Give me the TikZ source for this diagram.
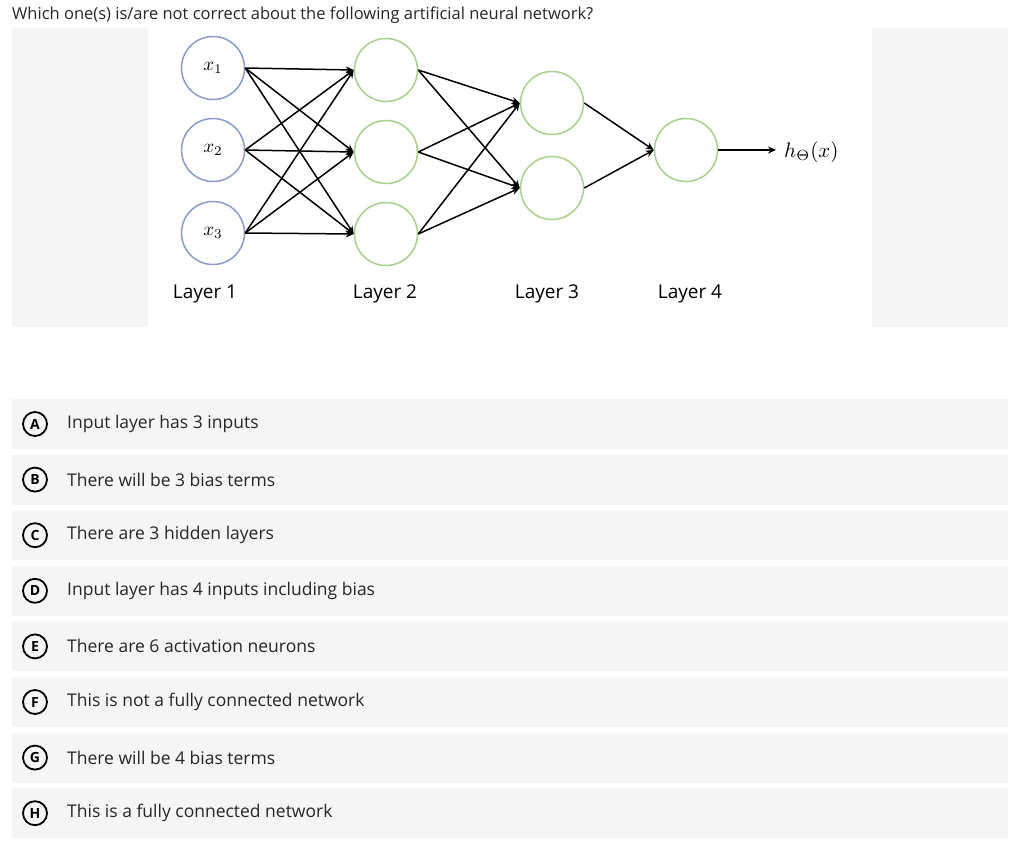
\documentclass[tikz,border=0pt]{standalone}
\usepackage{fontspec}
\setmainfont{Open Sans}
\usetikzlibrary{arrows.meta}
\definecolor{panel}{HTML}{F5F5F5}
\definecolor{inblue}{HTML}{8A9CC8}
\definecolor{hidgreen}{HTML}{A8D08D}
\tikzset{
 x=1pt,y=-1pt,
 inneur/.style={circle,draw=inblue,line width=1.5pt,minimum size=63pt,inner sep=0pt},
 hidneur/.style={circle,draw=hidgreen,line width=1.5pt,minimum size=63pt,inner sep=0pt},
 conn/.style={-{Stealth[length=8pt,width=7pt]},line width=1.5pt},
 layerlbl/.style={font=\fontsize{19}{22}\selectfont},
 optbar/.style={fill=panel,draw=none},
 optletter/.style={circle,draw,line width=1.8pt,minimum size=24pt,inner sep=0pt,font=\bfseries\fontsize{14}{14}\selectfont},
 opttext/.style={anchor=west,font=\fontsize{17.5}{20}\selectfont,text=black!85}
}
\begin{document}
\begin{tikzpicture}
\useasboundingbox (0,0) rectangle (1024,841);
\fill[white] (0,0) rectangle (1024,841);
\node[anchor=west,inner sep=0pt,font=\fontsize{16.5}{20}\selectfont,text=black!85] (title) at (12,15) {Which one(s) is/are not correct about the following artificial neural network?};
\fill[panel] (12,28) rectangle (148,327);
\fill[panel] (872,28) rectangle (1008,327);
% layer 1
\node[inneur] (a1) at (213,68) {\scalebox{1.9}{$x_1$}};
\node[inneur] (a2) at (213,150) {\scalebox{1.9}{$x_2$}};
\node[inneur] (a3) at (213,233) {\scalebox{1.9}{$x_3$}};
% layer 2
\node[hidneur] (b1) at (386,70) {};
\node[hidneur] (b2) at (386,152) {};
\node[hidneur] (b3) at (386,234) {};
% layer 3
\node[hidneur] (c1) at (552,103) {};
\node[hidneur] (c2) at (552,188) {};
% layer 4
\node[hidneur] (d1) at (686,150) {};
\foreach \i in {1,2,3}{\foreach \j in {1,2,3}{\draw[conn] (a\i.east) -- (b\j.west);}}
\foreach \i in {1,2,3}{\foreach \j in {1,2}{\draw[conn] (b\i.east) -- (c\j.west);}}
\foreach \i in {1,2}{\draw[conn] (c\i.east) -- (d1.west);}
\coordinate (outend) at (776,150);
\draw[conn] (d1.east) -- (outend);
\node[anchor=west,inner sep=0pt] (hout) at (784,152) {\scalebox{2.1}{$h_\Theta(x)$}};
\node[layerlbl] (l1) at (205,294) {Layer 1};
\node[layerlbl] (l2) at (385,294) {Layer 2};
\node[layerlbl] (l3) at (547,294) {Layer 3};
\node[layerlbl] (l4) at (690,294) {Layer 4};
% options
\foreach \k/\L/\T [count=\n from 0] in {
 A/A/Input layer has 3 inputs,
 B/B/There will be 3 bias terms,
 C/C/There are 3 hidden layers,
 D/D/Input layer has 4 inputs including bias,
 E/E/There are 6 activation neurons,
 F/F/This is not a fully connected network,
 G/G/There will be 4 bias terms,
 H/H/This is a fully connected network}{
 \pgfmathsetmacro{\yy}{424+55.6*\n}
 \fill[optbar] (12,\yy-25) rectangle (1008,\yy+25);
 \node[optletter] (o\k) at (35,\yy) {\L};
 \node[opttext,inner sep=0pt] (t\k) at (67,\yy) {\T};
}
\end{tikzpicture}
\end{document}
